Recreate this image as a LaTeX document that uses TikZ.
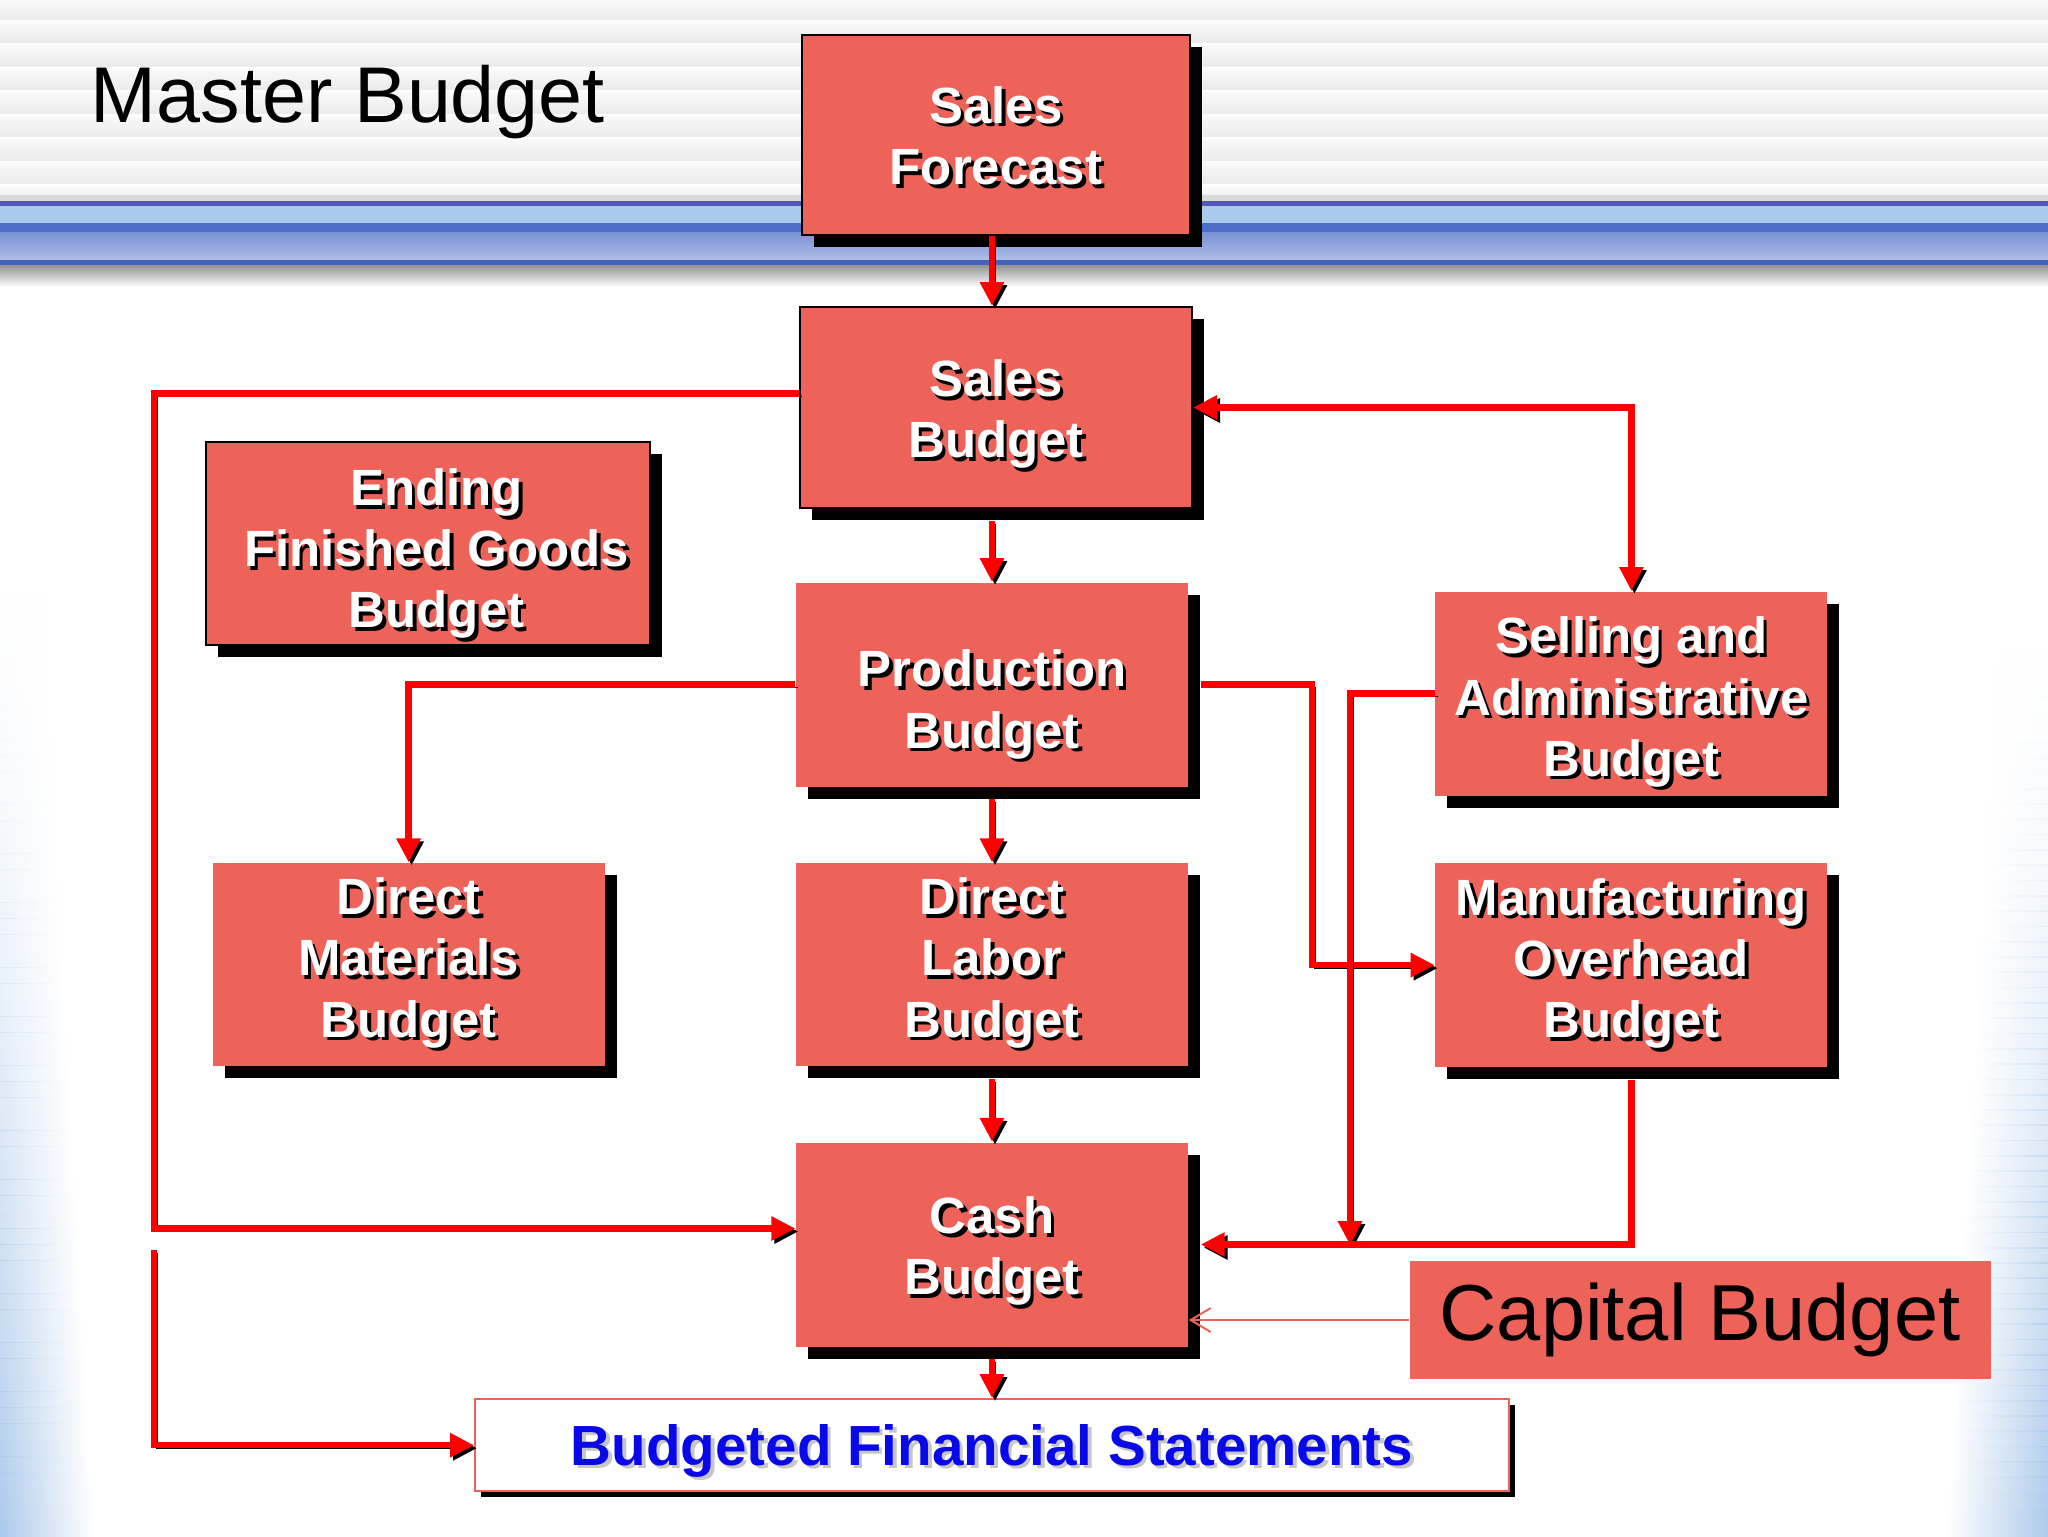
\documentclass[tikz,border=0pt]{standalone}
\usepackage{fontspec}
\setmainfont{Liberation Sans}
\usetikzlibrary{positioning,shadows,arrows.meta}
\definecolor{boxred}{RGB}{238,99,89}
\definecolor{bfsblue}{RGB}{8,8,232}
\definecolor{bandblue}{RGB}{76,110,200}
\definecolor{paleblue}{RGB}{170,202,236}
\definecolor{edgeblue}{RGB}{172,202,236}
\newcommand{\shtx}[2][black]{\rlap{\kern1pt\raisebox{-1pt}{\textcolor{#1}{#2}}}#2}

\begin{document}
\begin{tikzpicture}[x=0.1mm, y=-0.1mm, >={Triangle[length=2.4mm,width=2.3mm]},
  bbox/.style={fill=boxred, text=white, inner sep=0pt, minimum width=39.2mm, minimum height=20.3mm,
    align=center, font=\bfseries\fontsize{14.5}{17.4}\selectfont,
    drop shadow={shadow xshift=1.2mm, shadow yshift=-1.2mm, fill=black, opacity=1}},
  edged/.style={draw=black, line width=0.2mm},
  wire/.style={draw=red, line width=0.65mm,
    preaction={draw=black, transform canvas={shift={(0.3mm,-0.3mm)}}}}]
\tikzstyle{capline}=[draw=boxred, line width=0.2mm, -{Straight Barb[length=2mm,width=2.4mm]}]
\useasboundingbox (0,0) rectangle (2048,1536);
\fill[white] (0,0) rectangle (2048,1536);
\foreach \i in {0,...,8}
  \shade[top color=gray!4, bottom color=gray!16] (0,{\i*23.5-2}) rectangle (2048,{\i*23.5+19});
\fill[gray!30] (0,195) rectangle (2048,201);
\fill[bandblue!80!violet] (0,201) rectangle (2048,206);
\fill[paleblue] (0,206) rectangle (2048,223);
\fill[bandblue] (0,223) rectangle (2048,232);
\shade[top color=bandblue!75!white, bottom color=bandblue!45!white] (0,232) rectangle (2048,260);
\fill[bandblue!90!black] (0,260) rectangle (2048,265);
\shade[top color=gray!85, bottom color=white] (0,265) rectangle (2048,287);
\foreach \k in {0,...,59} {
  \shade[left color=edgeblue, right color=white, opacity={(\k/59)^1.6}]
    (0,{560+\k*16.3}) rectangle ({40+\k*0.9},{576+\k*16.3});
  \shade[left color=white, right color=edgeblue, opacity={(\k/59)^1.6}]
    ({2000-\k*0.9},{620+\k*15.3}) rectangle (2048,{636+\k*15.3});
}

\node[anchor=base west, inner sep=0pt, font=\fontsize{22.5}{27}\selectfont] (title) at (90,122) {Master Budget};

\node[bbox, edged, minimum width=38.8mm, minimum height=20mm] (sf) at (996,135) {\rule{0pt}{4.2mm}\shtx{Sales}\\\shtx{Forecast}};
\node[bbox, edged, below=7.0mm of sf, minimum height=20.1mm] (sb) {\rule{0pt}{5.4mm}\shtx{Sales}\\\shtx{Budget}};
\node[bbox, below=7.3mm of sb, xshift=-0.4mm, minimum height=20.4mm] (prod) {\rule{0pt}{8mm}\shtx{Production}\\\shtx{Budget}};
\node[bbox, below=7.5mm of prod] (dl) {\shtx{Direct}\\\shtx{Labor}\\\shtx{Budget}};
\node[bbox, below=7.5mm of dl, minimum height=20.4mm] (cash) {\rule{0pt}{5.4mm}\shtx{Cash}\\\shtx{Budget}};
\node[bbox, right=24.6mm of prod, yshift=-0.9mm, minimum height=20.4mm] (sa) {\rule{0pt}{5.7mm}\shtx{Selling and}\\\shtx{Administrative}\\\shtx{Budget}};
\node[bbox, below=6.6mm of sa, minimum height=20.4mm] (moh) {\shtx{Manufacturing}\\\shtx{Overhead}\\\shtx{Budget}};
\node[bbox, left=19mm of dl] (dm) {\shtx{Direct}\\\shtx{Materials}\\\shtx{Budget}};
\node[bbox, edged, minimum width=44.4mm, above=21.6mm of dm, xshift=1.9mm] (efg)
  {\rule{0pt}{6mm}\hspace*{1.8mm}\shtx{Ending}\\\hspace*{1.8mm}\shtx{Finished Goods}\\\hspace*{1.8mm}\shtx{Budget}};
\node[below=5.1mm of cash, draw=boxred, line width=0.2mm, fill=white, inner sep=0pt,
  minimum width=103.4mm, minimum height=9.2mm, text height=4mm, text depth=0pt,
  text=bfsblue, font=\bfseries\fontsize{16.1}{19}\selectfont,
  drop shadow={shadow xshift=0.6mm, shadow yshift=-0.6mm, fill=black, opacity=1}] (bfs)
  {\shtx[gray!45]{Budgeted Financial Statements}};
\node[fill=boxred, inner sep=0pt, minimum width=58.1mm, minimum height=11.8mm,
  font=\fontsize{22.6}{27}\selectfont] (cap) at (1700,1320) {Capital Budget};

\coordinate (rail) at (154,800);
\coordinate (railb) at (154,1250);
\coordinate (jog) at (1312,800);
\coordinate (tee) at (1350,1245);

\draw[wire,->] (sf.south -| prod.north) -- (sb.north -| prod.north);
\draw[wire,->] ([yshift=-1.2mm]sb.south -| prod.north) -- (prod.north);
\draw[wire,->] ([yshift=-1.2mm]prod.south) -- (dl.north);
\draw[wire,->] ([yshift=-1.2mm]dl.south) -- (cash.north);
\draw[wire,->] ([yshift=-1.2mm]cash.south) -- (cash.south |- bfs.north);
\draw[wire,->] ([yshift=1.4mm]sb.west) -| (rail) |- ([yshift=1.6mm]cash.west);
\draw[wire,->] (railb) |- (bfs.west);
\draw[wire,->] (prod.west) -| (dm.north);
\draw[wire,->] ([xshift=1.2mm]prod.east) -| (jog) |- (moh.west);
\draw[wire,->] (sa.west) -| (tee);
\draw[wire,->] ([yshift=-1.2mm]moh.south) |- ([xshift=1.2mm]cash.east);
\draw[wire,<->] (sb.east) -| (sa.north);
\draw[capline] (cap.west) -- (cap.west -| cash.east);
\end{tikzpicture}
\end{document}
